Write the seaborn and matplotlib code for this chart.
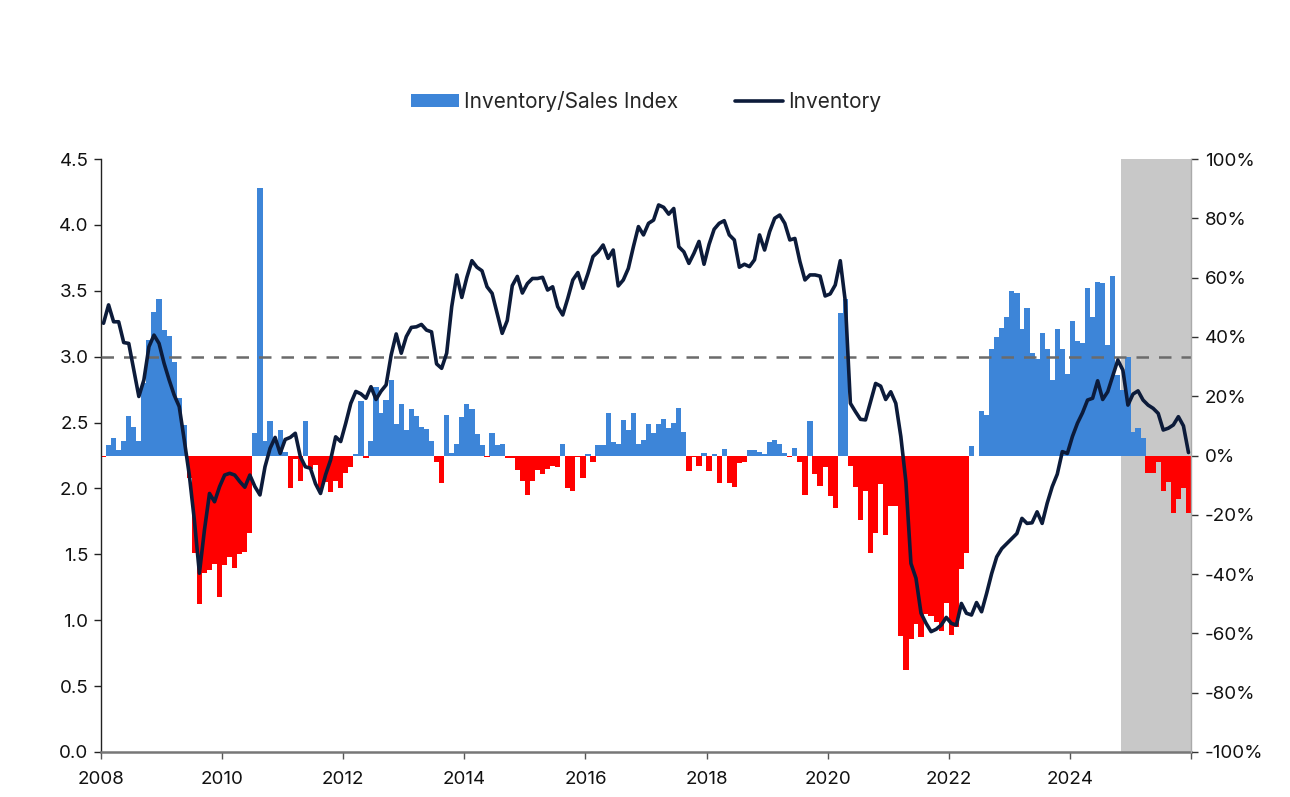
import numpy as np
import pandas as pd
import matplotlib
matplotlib.use("Agg")
import matplotlib.pyplot as plt
import seaborn as sns
from matplotlib.patches import Patch
from matplotlib.lines import Line2D

# ---------------- data ----------------
months = pd.date_range("2008-01-01", periods=216, freq="MS")

inv_sales_index = [
    2.24, 2.33, 2.38, 2.29, 2.36, 2.55, 2.47, 2.36, 2.80, 3.13, 3.34, 3.44,  # 2008
    3.20, 3.16, 2.96, 2.69, 2.48, 2.08, 1.51, 1.12, 1.36, 1.38, 1.43, 1.18,  # 2009
    1.42, 1.48, 1.40, 1.50, 1.52, 1.66, 2.42, 4.28, 2.36, 2.51, 2.36, 2.44,  # 2010
    2.28, 2.00, 2.22, 2.06, 2.51, 2.15, 2.18, 1.98, 2.05, 1.97, 2.06, 2.00,  # 2011
    2.12, 2.16, 2.26, 2.66, 2.23, 2.36, 2.77, 2.57, 2.67, 2.82, 2.49, 2.64,  # 2012
    2.44, 2.60, 2.55, 2.47, 2.45, 2.36, 2.20, 2.04, 2.56, 2.27, 2.34, 2.54,  # 2013
    2.64, 2.60, 2.41, 2.33, 2.24, 2.42, 2.33, 2.34, 2.23, 2.23, 2.14, 2.06,  # 2014
    1.95, 2.06, 2.14, 2.11, 2.15, 2.17, 2.16, 2.34, 2.00, 1.98, 2.24, 2.08,  # 2015
    2.26, 2.20, 2.33, 2.33, 2.57, 2.35, 2.34, 2.52, 2.44, 2.57, 2.34, 2.37,  # 2016
    2.49, 2.42, 2.49, 2.53, 2.46, 2.50, 2.61, 2.43, 2.13, 2.24, 2.17, 2.27,  # 2017
    2.13, 2.26, 2.04, 2.30, 2.04, 2.01, 2.19, 2.20, 2.29, 2.29, 2.28, 2.26,  # 2018
    2.35, 2.37, 2.34, 2.27, 2.24, 2.31, 2.20, 1.95, 2.51, 2.11, 2.02, 2.16,  # 2019
    1.94, 1.85, 3.33, 3.44, 2.17, 2.01, 1.76, 1.98, 1.51, 1.66, 2.03, 1.65,  # 2020
    1.87, 1.87, 0.88, 0.62, 0.86, 0.97, 0.87, 1.05, 1.03, 0.99, 0.92, 1.13,  # 2021
    0.89, 0.95, 1.39, 1.51, 2.32, 2.25, 2.59, 2.56, 3.06, 3.15, 3.22, 3.30,  # 2022
    3.50, 3.48, 3.21, 3.37, 3.03, 2.98, 3.18, 3.06, 2.82, 3.21, 3.06, 2.87,  # 2023
    3.27, 3.12, 3.10, 3.52, 3.30, 3.57, 3.56, 3.09, 3.61, 2.86, 2.75, 3.00,  # 2024
    2.43, 2.46, 2.38, 2.12, 2.12, 2.20, 1.98, 2.05, 1.81, 1.92, 2.00, 1.81,  # 2025
]

inventory_yoy = [
    44.6, 50.8, 45.1, 45.1, 38.1, 37.8, 28.8, 19.9, 25.5, 36.7, 40.6, 37.8,
    31.1, 25.5, 20.4, 16.5, 5.2, -6.6, -21.8, -39.7, -25.1, -12.8, -15.6, -10.5,
    -6.6, -6.0, -6.6, -8.8, -10.7, -6.6, -10.5, -13.3, -3.8, 2.4, 6.1, 0.7,
    5.4, 6.1, 7.5, -0.4, -3.8, -4.3, -9.5, -12.8, -6.5, -1.5, 6.3, 4.7,
    10.9, 17.6, 21.6, 20.8, 19.3, 23.2, 18.9, 21.7, 23.8, 33.9, 41.0, 34.5,
    40.1, 43.2, 43.4, 44.2, 42.3, 41.7, 30.9, 29.4, 34.5, 50.2, 60.9, 53.3,
    60.1, 65.7, 63.5, 62.3, 56.9, 54.7, 47.9, 41.2, 45.5, 57.3, 60.4, 54.8,
    58.0, 59.7, 59.7, 60.1, 55.8, 56.9, 50.2, 47.4, 53.0, 59.2, 61.7, 56.4,
    61.4, 67.1, 68.7, 71.0, 66.5, 69.3, 57.2, 59.2, 63.1, 70.4, 77.2, 74.4,
    78.3, 79.4, 84.5, 83.7, 81.4, 83.3, 70.4, 68.7, 64.8, 68.2, 72.2, 64.5,
    71.2, 76.3, 78.3, 79.2, 74.4, 72.7, 63.5, 64.5, 63.7, 66.0, 74.4, 69.3,
    75.5, 80.0, 81.1, 78.3, 72.7, 73.2, 65.4, 59.2, 60.9, 60.9, 60.5, 53.8,
    54.5, 57.5, 65.7, 51.9, 17.6, 14.8, 12.2, 12.0, 18.2, 24.3, 23.4, 18.9,
    21.5, 17.6, 6.4, -8.8, -36.4, -41.4, -53.2, -56.6, -59.4, -58.6, -57.2, -54.6,
    -56.6, -57.2, -49.9, -53.2, -53.8, -49.6, -52.7, -46.5, -39.8, -34.2, -31.4, -29.7,
    -28.0, -26.3, -21.2, -22.9, -22.7, -19.0, -22.9, -16.1, -10.5, -6.3, 1.3, 0.7,
    6.4, 10.9, 14.4, 18.7, 19.3, 25.2, 18.9, 21.5, 26.8, 32.2, 28.8, 17.0,
    20.7, 21.8, 18.7, 17.0, 15.9, 14.2, 8.6, 9.2, 10.3, 13.1, 10.0, 1.0,
]

baseline = 2.25
threshold = 3.0
shade_start = 2024.85
left_ticks = [0.0, 0.5, 1.0, 1.5, 2.0, 2.5, 3.0, 3.5, 4.0, 4.5]
right_ticks = [-100, -80, -60, -40, -20, 0, 20, 40, 60, 80, 100]
year_ticks = [2008, 2010, 2012, 2014, 2016, 2018, 2020, 2022, 2024, 2026]
year_labels = ["2008", "2010", "2012", "2014", "2016", "2018", "2020", "2022", "2024", ""]
legend_labels = ["Inventory/Sales Index", "Inventory"]

BLUE = "#3d85d8"
RED = "#ff0000"
NAVY = "#0c1b3a"
GREY = "#c8c8c8"

# ---------------- frame ----------------
df = pd.DataFrame({
    "x": months.year + (months.month - 0.5) / 12.0,
    "index": inv_sales_index,
    "pct": inventory_yoy,
})
df["dev"] = df["index"] - baseline
df["sign"] = np.where(df["dev"] >= 0, "pos", "neg")

sns.set_theme(style="white")
plt.rcParams["font.family"] = ["Inter", "DejaVu Sans"]

fig = plt.figure(figsize=(12.9, 7.97), dpi=100)
ax = fig.add_axes([101 / 1290, 1 - 752 / 797, 1090 / 1290, 593 / 797])

ax.axvspan(shade_start, 2026, color=GREY, zorder=0, linewidth=0)

sns.barplot(
    data=df, x="x", y="dev", hue="sign",
    palette={"pos": BLUE, "neg": RED}, saturation=1,
    native_scale=True, width=1.04, dodge=False, linewidth=0,
    errorbar=None, legend=False, bottom=baseline, ax=ax, zorder=2,
)

ax.axhline(threshold, color="#6b6b6b", linestyle=(0, (5, 4)), linewidth=1.8, zorder=3)

ax.set_xlim(2008, 2026)
ax.set_ylim(0, 4.5)
ax.set_yticks(left_ticks)
ax.set_yticklabels([f"{v:.1f}" for v in left_ticks])
ax.set_xticks(year_ticks)
ax.set_xticklabels(year_labels)
ax.set_xlabel("")
ax.set_ylabel("")

ax2 = ax.twinx()
sns.lineplot(data=df, x="x", y="pct", color=NAVY, linewidth=2.6, ax=ax2, zorder=4)
ax2.set_ylim(-100, 100)
ax2.set_yticks(right_ticks)
ax2.set_yticklabels([f"{v}%" for v in right_ticks])
ax2.set_xlim(2008, 2026)
ax2.set_ylabel("")
ax2.set_xlabel("")

for a in (ax, ax2):
    a.spines["top"].set_visible(False)
ax.spines["left"].set_color("#222222")
ax.spines["left"].set_linewidth(1.0)
ax.spines["bottom"].set_color("#777777")
ax.spines["bottom"].set_linewidth(1.8)
ax.spines["right"].set_visible(False)
ax2.spines["left"].set_visible(False)
ax2.spines["bottom"].set_visible(False)
ax2.spines["right"].set_color("#aaaaaa")
ax2.spines["right"].set_linewidth(1.0)

ax.tick_params(axis="y", which="major", direction="out", length=5, width=1,
               color="#222222", labelsize=13.5, labelcolor="#111111", pad=4, left=True)
ax.tick_params(axis="x", which="major", direction="out", length=5, width=1,
               color="#555555", labelsize=13.5, labelcolor="#111111", pad=9, bottom=True)
ax2.tick_params(axis="y", which="major", direction="out", length=5, width=1,
                color="#333333", labelsize=13.5, labelcolor="#111111", pad=5, right=True)

handles = [
    Patch(facecolor=BLUE, edgecolor="none"),
    Line2D([0], [0], color=NAVY, linewidth=2.6),
]
fig.legend(handles, legend_labels, loc="center", bbox_to_anchor=(0.5008, 0.873),
           ncol=2, frameon=False, fontsize=15, handlelength=2.3, handleheight=0.6,
           handletextpad=0.25, columnspacing=2.7)

fig.savefig("out.png", dpi=100)
